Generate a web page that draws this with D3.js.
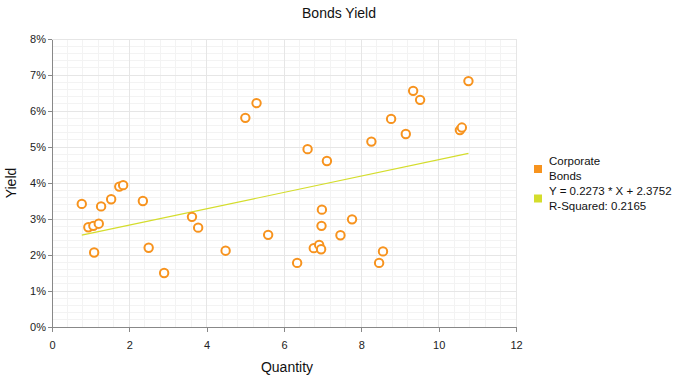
<!DOCTYPE html>
<html><head><meta charset="utf-8">
<script src="https://cdn.jsdelivr.net/npm/d3@7"></script>
<style>
body{margin:0;background:#fff;}
svg{font-family:"Liberation Sans",Arial,sans-serif;}
</style></head>
<body><svg id="c" width="677" height="378"></svg>
<script>
const quantity = [0.77,0.94,1.07,1.21,1.09,1.27,1.53,1.74,1.84,2.35,2.50,2.90,3.62,3.78,4.49,5.59,
  5.00,5.29,6.61,7.11,8.26,8.77,9.15,9.34,9.52,10.55,10.60,10.77,
  6.98,7.76,6.97,7.46,6.77,6.91,6.96,6.34,8.56,8.46];
const yieldPct = [3.42,2.77,2.81,2.87,2.07,3.35,3.55,3.90,3.94,3.50,2.20,1.50,3.06,2.76,2.12,2.56,
  5.81,6.22,4.94,4.61,5.15,5.78,5.36,6.56,6.31,5.47,5.54,6.83,
  3.26,2.99,2.81,2.55,2.19,2.28,2.16,1.78,2.10,1.78];
const slope = 0.2273, intercept = 2.3752, rSquared = 0.2165;
const xTicks = [0,2,4,6,8,10,12];
const yTicks = [0,1,2,3,4,5,6,7,8];
const legendLabels = [["Corporate","Bonds"],["Y = 0.2273 * X + 2.3752","R-Squared: 0.2165"]];

const svg = d3.select("#c");
const L=52,R=516,T=39,B=327;
const x = d3.scaleLinear().domain([0,12]).range([L,R]);
const y = d3.scaleLinear().domain([0,8]).range([B,T]);
const orange="#f7931e", lime="#d4dd2c";

const grid = svg.append("g");
grid.selectAll(".mx").data(d3.range(0,12.001,0.4)).enter().append("line")
  .attr("x1",d=>x(d)).attr("x2",d=>x(d)).attr("y1",T).attr("y2",B)
  .attr("stroke","#f3f3f3").attr("stroke-width",1).attr("shape-rendering","crispEdges");
grid.selectAll(".my").data(d3.range(0,8.001,0.2)).enter().append("line")
  .attr("y1",d=>y(d)).attr("y2",d=>y(d)).attr("x1",L).attr("x2",R)
  .attr("stroke","#f3f3f3").attr("stroke-width",1).attr("shape-rendering","crispEdges");
grid.selectAll(".Mx").data(xTicks).enter().append("line")
  .attr("x1",d=>x(d)).attr("x2",d=>x(d)).attr("y1",T).attr("y2",B)
  .attr("stroke","#e6e6e6").attr("shape-rendering","crispEdges");
grid.selectAll(".My").data(yTicks).enter().append("line")
  .attr("y1",d=>y(d)).attr("y2",d=>y(d)).attr("x1",L).attr("x2",R)
  .attr("stroke","#e6e6e6").attr("shape-rendering","crispEdges");

const xa = svg.append("g").attr("transform",`translate(0,${B})`)
  .call(d3.axisBottom(x).tickValues(xTicks).tickSize(5).tickSizeOuter(0).tickFormat(d3.format("d")));
const ya = svg.append("g").attr("transform",`translate(${L},0)`)
  .call(d3.axisLeft(y).tickValues(yTicks).tickSize(4).tickSizeOuter(0).tickFormat(d=>d+"%"));
[xa,ya].forEach(a=>{
  a.selectAll("path,line").attr("stroke","#888").attr("shape-rendering","crispEdges");
  a.selectAll("text").attr("fill","#222").style("font-size","11px").style("font-family","'Liberation Sans',Arial,sans-serif");
});
xa.selectAll("text").attr("dy","1.3em");
ya.selectAll("text").attr("x",-6);

const xmin=d3.min(quantity), xmax=d3.max(quantity);
svg.append("line").attr("x1",x(xmin)).attr("y1",y(slope*xmin+intercept))
  .attr("x2",x(xmax)).attr("y2",y(slope*xmax+intercept))
  .attr("stroke",lime).attr("stroke-width",1.2);

svg.append("g").selectAll("circle").data(quantity.map((q,i)=>[q,yieldPct[i]])).enter().append("circle")
  .attr("cx",d=>x(d[0])).attr("cy",d=>y(d[1])).attr("r",4.2)
  .attr("fill","#fff").attr("stroke",orange).attr("stroke-width",2);

svg.append("text").attr("x",339).attr("y",18).attr("text-anchor","middle")
  .style("font-size","14px").attr("fill","#111").text("Bonds Yield");
svg.append("text").attr("x",287).attr("y",372).attr("text-anchor","middle")
  .style("font-size","14px").attr("fill","#111").text("Quantity");
svg.append("text").attr("transform","translate(16,183) rotate(-90)").attr("text-anchor","middle")
  .style("font-size","14px").attr("fill","#111").text("Yield");

const lg = svg.append("g");
const colors=[orange,lime];
const ly=[169,198.5];
const textTop=[161,190.5];
legendLabels.forEach((lab,i)=>{
  lg.append("rect").attr("x",534).attr("y",ly[i]-4).attr("width",8).attr("height",8).attr("fill",colors[i]);
  lab.forEach((t,j)=>{
    lg.append("text").attr("x",549).attr("y",textTop[i]+j*15).attr("dy","0.35em")
      .style("font-size","11.5px").attr("fill","#111").text(t);
  });
});
</script></body></html>
